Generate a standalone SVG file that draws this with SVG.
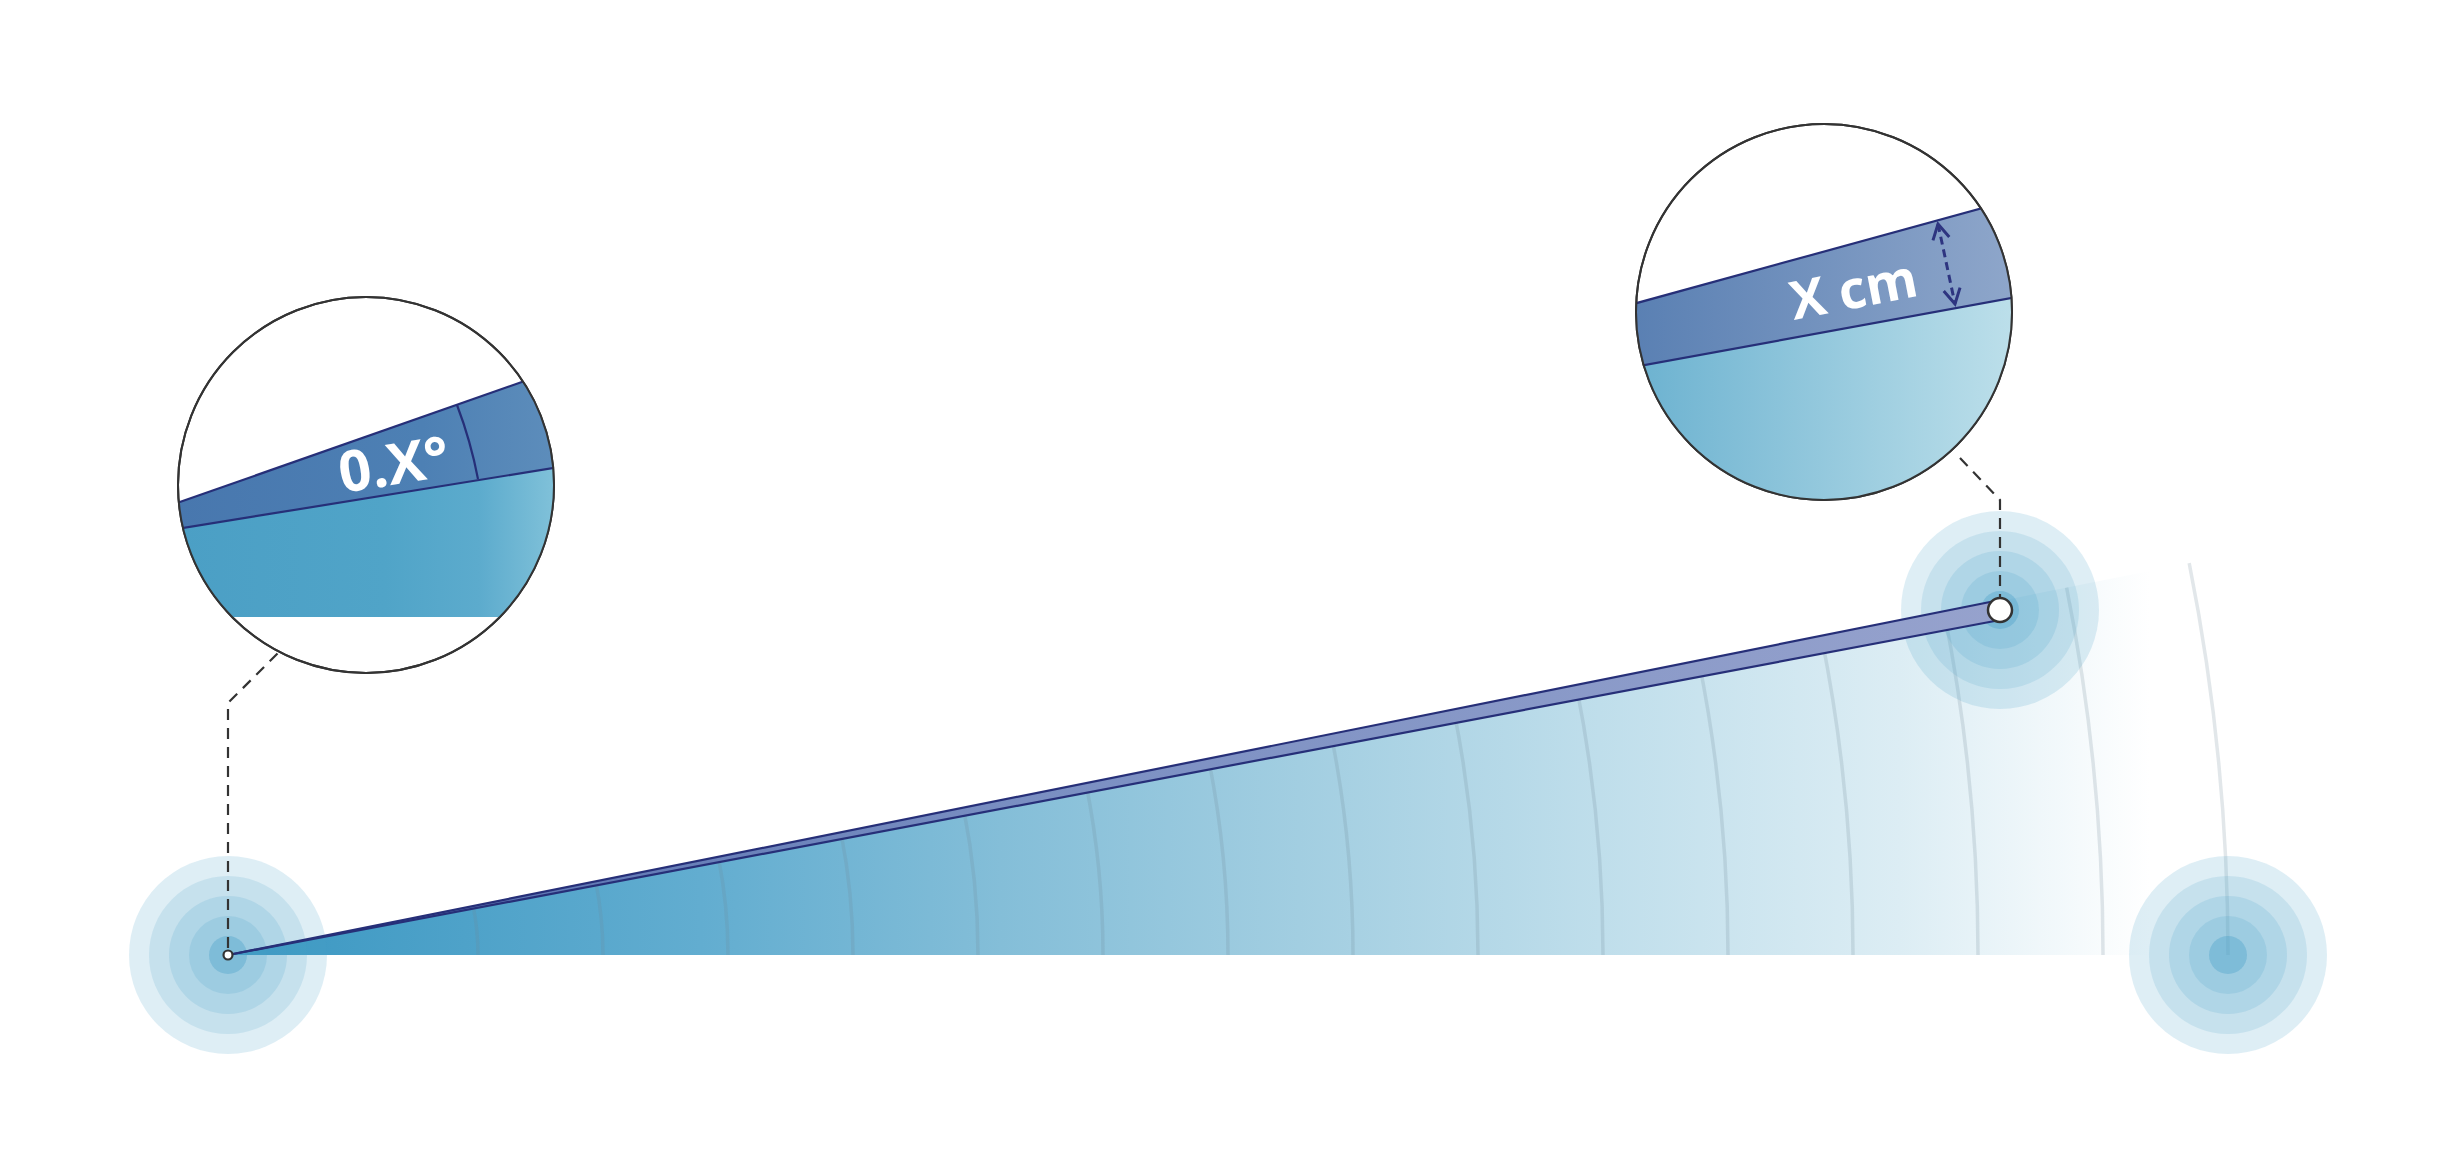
<svg xmlns="http://www.w3.org/2000/svg" width="2443" height="1154" viewBox="0 0 2443 1154">
  <style>
    .arc { fill: none; stroke: #6f8595; stroke-opacity: 0.2; stroke-width: 3.5; }
    .band-line { fill: none; stroke: #262f78; stroke-width: 2.2; }
    .dash { fill: none; stroke: #333333; stroke-width: 2.2; stroke-dasharray: 11 8; }
    .lens { fill: #ffffff; stroke: #333333; stroke-width: 2; }
    .lens-rim { fill: none; stroke: #333333; stroke-width: 2; }
    .ring { fill: #4aa0c8; }
    .label { font-family: "Open Sans", "Liberation Sans", sans-serif; font-weight: 700; fill: #ffffff; }
    .pin { fill: #ffffff; stroke: #333333; }
  </style>
  <defs>
    <linearGradient id="gFill" gradientUnits="userSpaceOnUse" x1="228" y1="0" x2="2230" y2="0">
      <stop offset="0" stop-color="#3a97c2"/>
      <stop offset="0.236" stop-color="#62add0"/>
      <stop offset="0.386" stop-color="#84bed8"/>
      <stop offset="0.535" stop-color="#a2cee1"/>
      <stop offset="0.685" stop-color="#bfdeeb"/>
      <stop offset="0.835" stop-color="#dcedf4"/>
      <stop offset="0.96" stop-color="#ffffff"/>
    </linearGradient>
    <linearGradient id="gBand" gradientUnits="userSpaceOnUse" x1="228" y1="0" x2="2000" y2="0">
      <stop offset="0" stop-color="#4f6aab"/>
      <stop offset="0.45" stop-color="#7a8fc2"/>
      <stop offset="1" stop-color="#96a2cd"/>
    </linearGradient>
    <linearGradient id="gLBand" gradientUnits="userSpaceOnUse" x1="178" y1="0" x2="554" y2="0">
      <stop offset="0" stop-color="#4877ae"/>
      <stop offset="0.65" stop-color="#4d80b4"/>
      <stop offset="1" stop-color="#5d8dbb"/>
    </linearGradient>
    <linearGradient id="gLFill" gradientUnits="userSpaceOnUse" x1="178" y1="0" x2="554" y2="0">
      <stop offset="0" stop-color="#4b9fc5"/>
      <stop offset="0.55" stop-color="#50a4c8"/>
      <stop offset="0.8" stop-color="#5cabcd"/>
      <stop offset="1" stop-color="#80c1d9"/>
    </linearGradient>
    <linearGradient id="gRBand" gradientUnits="userSpaceOnUse" x1="1636" y1="0" x2="2012" y2="0">
      <stop offset="0" stop-color="#5a80b3"/>
      <stop offset="1" stop-color="#8ea6ca"/>
    </linearGradient>
    <linearGradient id="gRFill" gradientUnits="userSpaceOnUse" x1="1636" y1="0" x2="2012" y2="0">
      <stop offset="0" stop-color="#6cb2d0"/>
      <stop offset="1" stop-color="#bcdfea"/>
    </linearGradient>
    <clipPath id="clipL"><circle cx="366" cy="485" r="188"/></clipPath>
    <clipPath id="clipR"><circle cx="1824" cy="312" r="188"/></clipPath>
    <marker id="chev" viewBox="0 0 12 12" refX="10" refY="6" markerUnits="userSpaceOnUse" markerWidth="20" markerHeight="20" orient="auto-start-reverse">
      <path d="M1,1 L10,6 L1,11" fill="none" stroke="#2e3580" stroke-width="1.8"/>
    </marker>
    <g id="target">
      <circle class="ring" r="99" fill-opacity="0.18"/>
      <circle class="ring" r="79" fill-opacity="0.16"/>
      <circle class="ring" r="59" fill-opacity="0.17"/>
      <circle class="ring" r="39" fill-opacity="0.18"/>
      <circle class="ring" r="19" fill-opacity="0.37"/>
    </g>
  </defs>

  <rect width="2443" height="1154" fill="#ffffff"/>

  <!-- main wedge -->
  <g id="wedge">
    <polygon points="228,955 2230,955 2230,555" fill="url(#gFill)"/>
    <g id="arcs">
      <path class="arc" d="M478,955 A250,250 0 0 0 473.2,906.0"/>
      <path class="arc" d="M603,955 A375,375 0 0 0 595.7,881.5"/>
      <path class="arc" d="M728,955 A500,500 0 0 0 718.3,857.1"/>
      <path class="arc" d="M853,955 A625,625 0 0 0 840.9,832.6"/>
      <path class="arc" d="M978,955 A750,750 0 0 0 963.5,808.1"/>
      <path class="arc" d="M1103,955 A875,875 0 0 0 1086.0,783.6"/>
      <path class="arc" d="M1228,955 A1000,1000 0 0 0 1208.6,759.1"/>
      <path class="arc" d="M1353,955 A1125,1125 0 0 0 1331.2,734.6"/>
      <path class="arc" d="M1478,955 A1250,1250 0 0 0 1453.8,710.1"/>
      <path class="arc" d="M1603,955 A1375,1375 0 0 0 1576.3,685.6"/>
      <path class="arc" d="M1728,955 A1500,1500 0 0 0 1698.9,661.2"/>
      <path class="arc" d="M1853,955 A1625,1625 0 0 0 1821.5,636.7"/>
      <path class="arc" d="M1978,955 A1750,1750 0 0 0 1944.1,612.2"/>
      <path class="arc" d="M2103,955 A1875,1875 0 0 0 2066.6,587.7"/>
      <path class="arc" d="M2228,955 A2000,2000 0 0 0 2189.2,563.2"/>
    </g>
  </g>

  <!-- targets -->
  <g id="target-left"><use href="#target" x="228" y="955"/></g>
  <g id="target-right-top"><use href="#target" x="2000" y="610"/></g>
  <g id="target-right-bottom"><use href="#target" x="2228" y="955"/></g>

  <!-- beam band -->
  <g id="beam">
    <polygon points="228,955 2000,600 2000,620" fill="url(#gBand)"/>
    <line class="band-line" x1="228" y1="955" x2="2000" y2="600"/>
    <line class="band-line" x1="228" y1="955" x2="2000" y2="620"/>
  </g>

  <!-- connectors -->
  <g id="connectors">
    <path class="dash" d="M228,948 V703 L278,653"/>
    <path class="dash" d="M1960,458 L2000,500 V598"/>
  </g>

  <!-- pins -->
  <g id="pin-left"><circle class="pin" cx="228" cy="955" r="4.5" stroke-width="2.2"/></g>
  <g id="pin-right"><circle class="pin" cx="2000" cy="610" r="12" stroke-width="2.5"/></g>

  <!-- left magnifier -->
  <g id="lens-left">
    <circle class="lens" cx="366" cy="485" r="188"/>
    <g clip-path="url(#clipL)">
      <polygon points="170,530.1 560,466.9 560,617 170,617" fill="url(#gLFill)"/>
      <polygon points="170,505.5 560,368.6 560,466.9 170,530.1" fill="url(#gLBand)"/>
      <line class="band-line" x1="170" y1="505.5" x2="560" y2="368.6"/>
      <line class="band-line" x1="170" y1="530.1" x2="560" y2="466.9"/>
      <path class="band-line" d="M457,405 A443,443 0 0 1 478,479"/>
      <text class="label" x="342" y="493" font-size="57" transform="rotate(-9 342 493)">0.X°</text>
    </g>
    <circle class="lens-rim" cx="366" cy="485" r="188"/>
  </g>

  <!-- right magnifier -->
  <g id="lens-right">
    <circle class="lens" cx="1824" cy="312" r="188"/>
    <g clip-path="url(#clipR)">
      <polygon points="1630,367.7 2020,296.4 2020,510 1630,510" fill="url(#gRFill)"/>
      <polygon points="1630,304.9 2020,197.7 2020,296.4 1630,367.7" fill="url(#gRBand)"/>
      <line class="band-line" x1="1630" y1="304.9" x2="2020" y2="197.7"/>
      <line class="band-line" x1="1630" y1="367.7" x2="2020" y2="296.4"/>
      <text class="label" x="1794" y="320" font-size="53" transform="rotate(-11 1794 320)">X cm</text>
      <line x1="1938" y1="224" x2="1955" y2="304" stroke="#2e3580" stroke-width="3" stroke-dasharray="8 5" marker-start="url(#chev)" marker-end="url(#chev)"/>
    </g>
    <circle class="lens-rim" cx="1824" cy="312" r="188"/>
  </g>
</svg>
